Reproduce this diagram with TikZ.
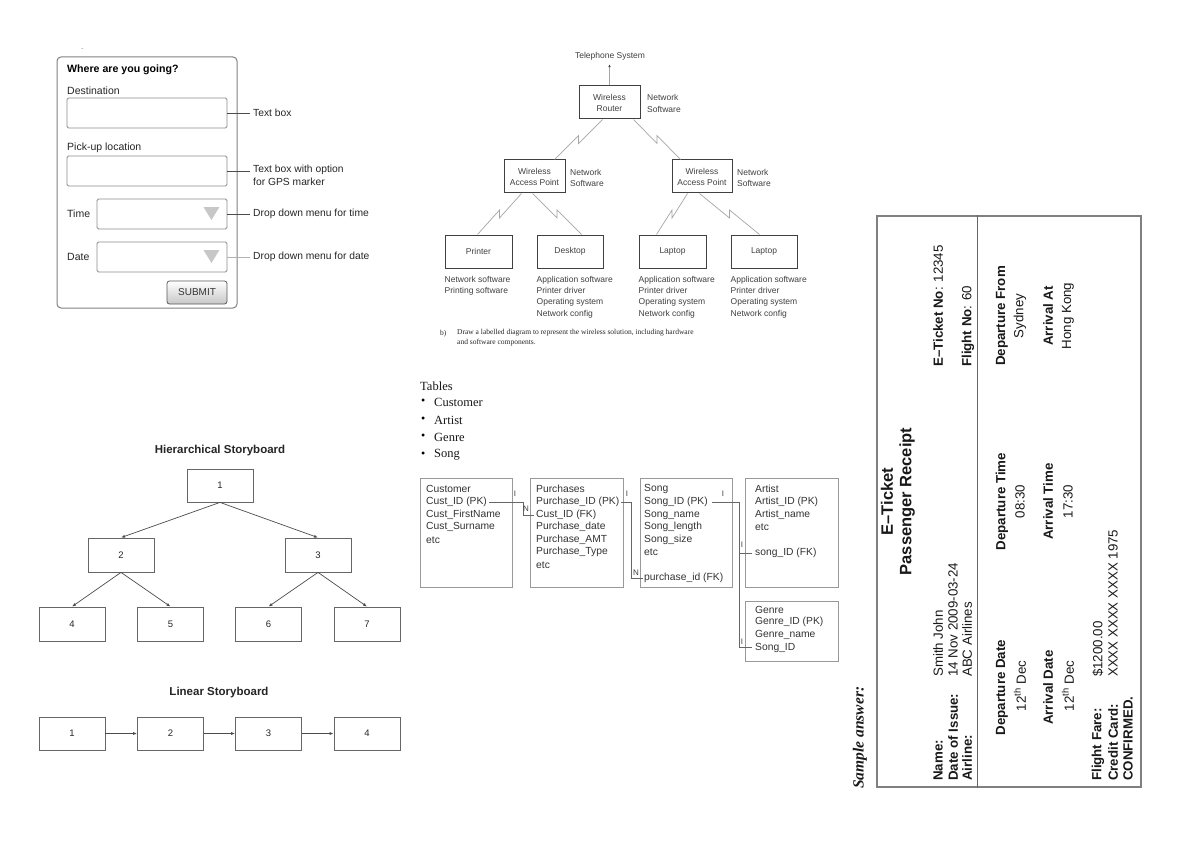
\documentclass[tikz,border=0pt]{standalone}
\usepackage{fontspec}
\setmainfont{Liberation Sans}
\newfontfamily\serifface{Liberation Serif}
\usetikzlibrary{arrows.meta,calc}
\newcommand\fsz[2]{\fontsize{#1}{#2}\selectfont}
\newcommand\zig[2]{\draw[wlink] (#1) -- ($(#1)!0.5!(#2)+(0,4)$) -- ($(#1)!0.5!(#2)+(0,-4)$) -- (#2);}
\begin{document}
\begin{tikzpicture}[x=1pt,y=-1pt,
  lbl/.style={inner sep=0pt, anchor=west},
  fbox/.style={draw=black!45, line width=0.9pt, rounded corners=1.5pt, inner sep=0pt},
  ftext/.style={font=\fsz{10.5}{12}, text=black!85},
  callout/.style={draw=black!70, line width=0.8pt},
  clab/.style={inner ysep=0pt, inner xsep=3pt, anchor=west, font=\fsz{10.3}{13}, text=black!85},
  nbox/.style={draw=black!75, line width=1pt, align=center, font=\fsz{8.5}{11}, text=black!75, inner sep=0pt},
  ntext/.style={font=\fsz{8.5}{11.3}, text=black!75, align=left, inner sep=0pt},
  wlink/.style={draw=black!35, line width=0.7pt},
  tbox/.style={draw=black!40, line width=1pt, inner sep=0pt},
  ttext/.style={font=\fsz{10.3}{12}, text=black!80, inner sep=0pt, anchor=west},
  rel/.style={draw=black!60, line width=0.9pt},
  card/.style={font=\fsz{8}{9}, text=black!75, inner sep=0pt},
  sbox/.style={draw=black!60, line width=0.8pt, font=\fsz{9.5}{11}, text=black!85, inner sep=0pt},
  sarrow/.style={draw=black!70, line width=0.7pt, -{Latex[length=4pt,width=3pt]}},
  stitle/.style={font=\bfseries\fsz{11.5}{13}, text=black!85, inner sep=0pt},
  rtext/.style={rotate=90, inner sep=0pt, font=\fsz{13.3}{15}, text=black!90},
  rbold/.style={rtext, font=\bfseries\fsz{13.3}{15}},
]
\fill[white] (0,0) rectangle (1200,848);
\useasboundingbox (0,0) rectangle (1200,848);

% ================= FORM =================
\node[draw=black!50, line width=1pt, rounded corners=4pt, minimum width=180, minimum height=251, inner sep=0pt] (form) at (147,182.5) {};
\node[lbl, font=\fsz{8}{9}, text=black!60] (dot) at (81,49) {.};
\node[lbl, font=\bfseries\fsz{10.6}{12}] (q) at (67,70) {Where are you going?};
\node[lbl, ftext] (destl) at (67,91) {Destination};
\node[fbox, minimum width=160, minimum height=30] (dest) at (147,113) {};
\node[lbl, ftext] (pickl) at (67,148) {Pick-up location};
\node[fbox, minimum width=160, minimum height=30] (pick) at (147,171) {};
\node[lbl, ftext] (timel) at (67,214) {Time};
\node[fbox, minimum width=130, minimum height=30] (time) at (162,214) {};
\fill[black!22] ($(time.east)+(-24,-7)$) -- ++(16,0) -- ++(-8,13) -- cycle;
\node[lbl, ftext] (datel) at (67,257) {Date};
\node[fbox, minimum width=130, minimum height=30] (date) at (162,257) {};
\fill[black!22] ($(date.east)+(-24,-7)$) -- ++(16,0) -- ++(-8,13) -- cycle;
\node[draw=black!65, line width=0.8pt, rounded corners=2.5pt, top color=white, bottom color=black!22, minimum width=60, minimum height=23, inner sep=0pt, font=\fsz{10}{11}, text=black!80] (submit) at (197,292.5) {SUBMIT};

\node[clab] (c1) at (250,113) {Text box};
\draw[callout] (dest.east) -- (c1.west);
\node[clab, anchor=north west, align=left] (c2) at (250,164.5) {Text box with option\\for GPS marker};
\draw[callout] (pick.east) -- (pick.east -| c2.west);
\node[clab] (c3) at (250,214) {Drop down menu for time};
\draw[callout] (time.east) -- (c3.west);
\node[clab] (c4) at (250,257) {Drop down menu for date};
\draw[callout, draw=black!30] (date.east) -- (c4.west);

% ================= NETWORK =================
\node[font=\fsz{8.5}{10}, text=black!75, inner sep=0pt] (tel) at (610,56) {Telephone System};
\node[nbox, minimum width=61, minimum height=33] (router) at (609.5,102.5) {Wireless\\Router};
\draw[wlink, -{Latex[length=3pt,width=2.5pt,black!75]}, shorten >=4pt] (router.north) -- (router.north |- tel.south);
\node[ntext, anchor=west] (rsw) at (647,103.5) {Network\\Software};

\node[nbox, minimum width=61, minimum height=33] (ap1) at (534.5,176.5) {Wireless\\Access Point};
\node[ntext, anchor=west] (ap1sw) at (570,178) {Network\\Software};
\node[nbox, minimum width=60, minimum height=33] (ap2) at (702,176.5) {Wireless\\Access Point};
\node[ntext, anchor=west] (ap2sw) at (737,178) {Network\\Software};

\node[nbox, minimum width=67, minimum height=33] (printer) at (478.5,251.5) {Printer};
\node[nbox, minimum width=66, minimum height=33] (desktop) at (570,251.5) {Desktop};
\node[nbox, minimum width=67, minimum height=33] (laptop1) at (672.5,251.5) {Laptop};
\node[nbox, minimum width=66, minimum height=33] (laptop2) at (764,251.5) {Laptop};

\node[ntext, anchor=north west] (prsw) at ($(printer.south west)+(0,7.5)$) {Network software\\Printing software};
\node[ntext, anchor=north west] (dksw) at ($(desktop.south west)+(0,7.5)$) {Application software\\Printer driver\\Operating system\\Network config};
\node[ntext, anchor=north west] (l1sw) at ($(laptop1.south west)+(0,7.5)$) {Application software\\Printer driver\\Operating system\\Network config};
\node[ntext, anchor=north west] (l2sw) at ($(laptop2.south west)+(0,7.5)$) {Application software\\Printer driver\\Operating system\\Network config};

\coordinate (r1) at ($(router.south west)+(24,0)$);
\coordinate (r2) at ($(router.south west)+(55,0)$);
\coordinate (a1t) at ($(ap1.north west)+(51,0)$);
\coordinate (a2t) at ($(ap2.north west)+(9,0)$);
\coordinate (a1b1) at ($(ap1.south west)+(18,0)$);
\coordinate (a1b2) at ($(ap1.south west)+(29,0)$);
\coordinate (a2b1) at ($(ap2.south west)+(16,0)$);
\coordinate (a2b2) at ($(ap2.south west)+(28,0)$);
\coordinate (pt) at ($(printer.north west)+(33,0)$);
\coordinate (dt) at ($(desktop.north west)+(45,0)$);
\coordinate (l1t) at ($(laptop1.north west)+(18,0)$);
\coordinate (l2t) at ($(laptop2.north west)+(29,0)$);
\zig{r1}{a1t}
\zig{r2}{a2t}
\zig{a1b1}{pt}
\zig{a1b2}{dt}
\zig{a2b1}{l1t}
\zig{a2b2}{l2t}

\node[lbl, font=\serifface\fsz{7.5}{9.5}, text=black!85] (cb) at (440,334) {b)};
\node[anchor=north west, inner sep=0pt, align=left, font=\serifface\fsz{7.5}{9.5}, text=black!85] (cap) at (457,329.5) {Draw a labelled diagram to represent the wireless solution, including hardware\\and software components.};

% ================= TABLES =================
\node[lbl, font=\serifface\fsz{12.5}{14}, text=black!90] (tables) at (420,386) {Tables};
\foreach \i/\t/\yy in {1/Customer/402, 2/Artist/420, 3/Genre/437, 4/Song/455}{
  \node[lbl, font=\serifface\fsz{12}{14}] (bul\i) at (421,\yy) {•};
  \node[lbl, font=\serifface\fsz{12.5}{14}, text=black!90] (item\i) at (434,\yy) {\t};
}
\node[tbox, minimum width=92, minimum height=109] (cust) at (466,532.5) {};
\node[tbox, minimum width=93, minimum height=109] (purch) at (576.5,532.5) {};
\node[tbox, minimum width=92, minimum height=109] (song) at (686,532.5) {};
\node[tbox, minimum width=93, minimum height=109] (artist) at (791.5,532.5) {};
\node[tbox, minimum width=93, minimum height=60] (genre) at (791.5,631) {};

\node[ttext] (cu1) at (426,489) {Customer};
\node[ttext] (cpk) at (426,502) {Cust\_ID (PK)};
\node[ttext] (cu3) at (426,515) {Cust\_FirstName};
\node[ttext] (cu4) at (426,527) {Cust\_Surname};
\node[ttext] (cu5) at (426,540) {etc};

\node[ttext] (pu1) at (536,489) {Purchases};
\node[ttext] (ppk) at (536,502) {Purchase\_ID (PK)};
\node[ttext] (pfk) at (536,515) {Cust\_ID (FK)};
\node[ttext] (pu4) at (536,527) {Purchase\_date};
\node[ttext] (pu5) at (536,540) {Purchase\_AMT};
\node[ttext] (pu6) at (536,552) {Purchase\_Type};
\node[ttext] (pu7) at (536,565) {etc};

\node[ttext] (so1) at (644,489) {Song};
\node[ttext] (spk) at (644,502) {Song\_ID (PK)};
\node[ttext] (so3) at (644,515) {Song\_name};
\node[ttext] (so4) at (644,527) {Song\_length};
\node[ttext] (so5) at (644,540) {Song\_size};
\node[ttext] (so6) at (644,552) {etc};
\node[ttext] (sfk) at (644,578) {purchase\_id (FK)};

\node[ttext] (ar1) at (755,489) {Artist};
\node[ttext] (ar2) at (755,502) {Artist\_ID (PK)};
\node[ttext] (ar3) at (755,515) {Artist\_name};
\node[ttext] (ar4) at (755,527) {etc};
\node[ttext] (afk) at (755,553) {song\_ID (FK)};

\node[ttext] (ge1) at (755,610) {Genre};
\node[ttext] (ge2) at (755,622) {Genre\_ID (PK)};
\node[ttext] (ge3) at (755,635) {Genre\_name};
\node[ttext] (gfk) at (755,647.5) {Song\_ID};

\draw[rel] ($(cpk.east)+(2,0)$) -| ($(pfk.west)+(-13,0)$) -- ($(pfk.west)+(-2,0)$);
\node[card] (cI1) at (515,494) {I};
\node[card] (cN1) at (526,509) {N};
\draw[rel] ($(ppk.east)+(2,0)$) -| ($(sfk.west)+(-13,0)$) -- ($(sfk.west)+(-1,0)$);
\node[card] (cI2) at (627,494) {I};
\node[card] (cN2) at (636,573) {N};
\draw[rel] ($(spk.east)+(4,0)$) -| ($(gfk.west)+(-16,0)$) -- ($(gfk.west)+(-3,0)$);
\draw[rel] ($(afk.west)+(-16,0)$) -- ($(afk.west)+(-3,0)$);
\node[card] (cI3) at (723,494) {I};
\node[card] (cI4) at (742,545) {I};
\node[card] (cI5) at (742,642) {I};

% ================= STORYBOARDS =================
\node[stitle] (htitle) at (220,451) {Hierarchical Storyboard};
\node[sbox, minimum width=66, minimum height=33] (h1) at (220,485.5) {1};
\node[sbox, minimum width=66, minimum height=34] (h2) at (121,555) {2};
\node[sbox, minimum width=66, minimum height=34] (h3) at (318,555) {3};
\node[sbox, minimum width=66, minimum height=34] (h4) at (72,624) {4};
\node[sbox, minimum width=66, minimum height=34] (h5) at (170.5,624) {5};
\node[sbox, minimum width=66, minimum height=34] (h6) at (268.5,624) {6};
\node[sbox, minimum width=66, minimum height=34] (h7) at (367,624) {7};
\draw[sarrow] (h1.south) -- (h2.north);
\draw[sarrow] (h1.south) -- (h3.north);
\draw[sarrow] (h2.south) -- (h4.north);
\draw[sarrow] (h2.south) -- (h5.north);
\draw[sarrow] (h3.south) -- (h6.north);
\draw[sarrow] (h3.south) -- (h7.north);

\node[stitle] (ltitle) at (219,693) {Linear Storyboard};
\node[sbox, minimum width=66, minimum height=33] (l1) at (72,733.5) {1};
\node[sbox, minimum width=66, minimum height=33] (l2) at (170.5,733.5) {2};
\node[sbox, minimum width=66, minimum height=33] (l3) at (268.5,733.5) {3};
\node[sbox, minimum width=66, minimum height=33] (l4) at (367,733.5) {4};
\draw[sarrow] (l1.east) -- (l2.west);
\draw[sarrow] (l2.east) -- (l3.west);
\draw[sarrow] (l3.east) -- (l4.west);

% ================= E-TICKET =================
\node[rtext, anchor=west, font=\serifface\bfseries\itshape\fsz{15.5}{17}] (sample) at (860,789) {Sample answer:};
\node[draw=black!50, line width=1.2pt, minimum width=264, minimum height=571, inner sep=0pt] (ticket) at (1009,501.5) {};
\coordinate (dvt) at ($(ticket.north west)+(101,0)$);
\coordinate (dvb) at ($(ticket.south west)+(101,0)$);
\draw[draw=black!60, line width=1.2pt] (dvt) -- (dvb);

\node[rtext, align=center, font=\bfseries\fsz{16.5}{18.5}] (ttitle) at (898,501.5) {E–Ticket\\Passenger Receipt};
\node[rbold, anchor=west] (nm) at (938,781) {Name:};
\node[rbold, anchor=west] (doi) at (953,781) {Date of Issue:};
\node[rbold, anchor=west] (al) at (967,781) {Airline:};
\node[rtext, anchor=west] (nmv) at (938,677) {Smith John};
\node[rtext, anchor=west] (doiv) at (953,677) {14 Nov 2009-03-24};
\node[rtext, anchor=west] (alv) at (967,677) {ABC Airlines};
\node[rtext, anchor=west] (etn) at (938,367) {\textbf{E–Ticket No}: 12345};
\node[rtext, anchor=west] (fln) at (968,367) {\textbf{Flight No}: 60};

\node[rbold] (dd) at (1002,687.5) {Departure Date};
\node[rtext] (ddv) at (1020,686) {12\textsuperscript{th} Dec};
\node[rbold] (ad) at (1048,687.5) {Arrival Date};
\node[rtext] (adv) at (1068,686) {12\textsuperscript{th} Dec};
\node[rbold] (dtm) at (1002,501.5) {Departure Time};
\node[rtext] (dtmv) at (1020,501.5) {08:30};
\node[rbold] (atm) at (1048,501.5) {Arrival Time};
\node[rtext] (atmv) at (1068,501.5) {17:30};
\node[rbold] (df) at (1002,316) {Departure From};
\node[rtext] (dfv) at (1020,316) {Sydney};
\node[rbold] (aa) at (1048,316) {Arrival At};
\node[rtext] (aav) at (1068,316) {Hong Kong};

\node[rbold, anchor=west] (ff) at (1098,781) {Flight Fare:};
\node[rtext, anchor=west] (ffv) at (1098,677) {\$1200.00};
\node[rbold, anchor=west] (cc) at (1113,781) {Credit Card:};
\node[rtext, anchor=west] (ccv) at (1113,677) {XXXX XXXX XXXX 1975};
\node[rbold, anchor=west] (cf) at (1128,781) {CONFIRMED.};
\end{tikzpicture}
\end{document}
